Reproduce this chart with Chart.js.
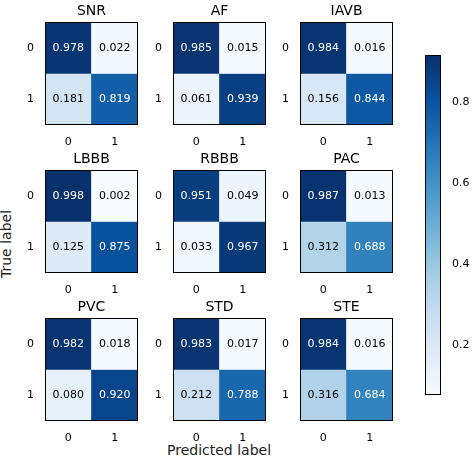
<!DOCTYPE html>
<html><head><meta charset="utf-8">
<script src="https://cdn.jsdelivr.net/npm/chart.js@4.4.0/dist/chart.umd.min.js"></script>
<style>
body{margin:0;background:#fff;font-family:"DejaVu Sans",sans-serif;}
#wrap{position:relative;width:474px;height:468px;}
canvas{position:absolute;}
.lab{position:absolute;font-size:14px;color:#222;}
</style></head><body>
<div id="wrap">
<div class="lab" style="left:-28px;top:236px;transform:rotate(-90deg);">True label</div>
<div class="lab" style="left:167px;top:442px;">Predicted label</div>
</div>
<script>
var classes = ["SNR","AF","IAVB","LBBB","RBBB","PAC","PVC","STD","STE"];
// rates per class: row 0 (true 0) and row 1 (true 1)
var row0 = [[0.978,0.022],[0.985,0.015],[0.984,0.016],[0.998,0.002],[0.951,0.049],[0.987,0.013],[0.982,0.018],[0.983,0.017],[0.984,0.016]];
var row1 = [[0.181,0.819],[0.061,0.939],[0.156,0.844],[0.125,0.875],[0.033,0.967],[0.312,0.688],[0.080,0.920],[0.212,0.788],[0.316,0.684]];
var axisLabels = ["0","1"];
var cbTicks = [0.2,0.4,0.6,0.8];
var cbMin = 0.077, cbMax = 0.916;

var stops = ["#f7fbff","#deebf7","#c6dbef","#9ecae1","#6baed6","#4292c6","#2171b5","#08519c","#08306b"];
function hex(h){return [1,3,5].map(function(i){return parseInt(h.substr(i,2),16);});}
function blues(v){
  var t = Math.max(0,Math.min(1,v))*8, i = Math.min(7,Math.floor(t)), f = t-i;
  var a = hex(stops[i]), b = hex(stops[i+1]);
  return "rgb("+a.map(function(x,k){return Math.round(x+(b[k]-x)*f);}).join(",")+")";
}

var colL = [45,173,300], rowT = [22,170,318], PW = 93, PH = 103;
var wrap = document.getElementById("wrap");

var panelPlugin = {
  id:"panel",
  afterDatasetsDraw:function(c){
    var ctx=c.ctx, a=c.chartArea;
    ctx.save();
    c.data.datasets.forEach(function(ds,di){
      c.getDatasetMeta(di).data.forEach(function(bar,j){
        var v = ds.vals[j];
        ctx.fillStyle = v>0.5 ? "#fff" : "#000";
        ctx.font = "11px 'DejaVu Sans'";
        ctx.textAlign="center"; ctx.textBaseline="middle";
        ctx.fillText(v.toFixed(3), bar.x, (bar.y+bar.base)/2);
      });
    });
    ctx.strokeStyle="#000"; ctx.lineWidth=1;
    ctx.strokeRect(a.left+0.5,a.top+0.5,a.width-1,a.height-1);
    ctx.fillStyle="#000"; ctx.font="14px 'DejaVu Sans'";
    ctx.textAlign="center"; ctx.textBaseline="bottom";
    ctx.fillText(c.options.plugins.ptitle, (a.left+a.right)/2, a.top-4);
    ctx.restore();
  }
};

classes.forEach(function(name,k){
  var col=k%3, row=Math.floor(k/3);
  var cv=document.createElement("canvas");
  cv.style.left=(colL[col]-22)+"px"; cv.style.top=(rowT[row]-22)+"px";
  cv.style.width=(PW+26)+"px"; cv.style.height=(PH+44)+"px";
  wrap.appendChild(cv);
  new Chart(cv,{
    type:"bar",
    data:{labels:axisLabels,datasets:[
      {data:[[1,2],[1,2]],vals:row0[k],backgroundColor:row0[k].map(blues),barPercentage:1,categoryPercentage:1,borderWidth:0},
      {data:[[0,1],[0,1]],vals:row1[k],backgroundColor:row1[k].map(blues),barPercentage:1,categoryPercentage:1,borderWidth:0}
    ]},
    options:{
      responsive:false,animation:false,
      layout:{padding:{top:22,right:4,left:0,bottom:0}},
      plugins:{legend:{display:false},tooltip:{enabled:false},ptitle:name},
      scales:{
        x:{stacked:true,grid:{display:false},border:{display:false},
           ticks:{color:"#000",font:{size:11,family:"DejaVu Sans"}},
           afterFit:function(s){s.height=22;}},
        y:{stacked:false,min:0,max:2,grid:{display:false},border:{display:false},
           afterBuildTicks:function(s){s.ticks=[{value:0.5},{value:1.5}];},
           ticks:{color:"#000",font:{size:11,family:"DejaVu Sans"},callback:function(v){return v===1.5?"0":"1";}},
           afterFit:function(s){s.width=22;}}
      }
    },
    plugins:[panelPlugin]
  });
});

// colorbar
var cb=document.createElement("canvas");
cb.style.left="425px"; cb.style.top="45px"; cb.style.width="45px"; cb.style.height="360px";
wrap.appendChild(cb);
new Chart(cb,{
  type:"bar",
  data:{labels:[""],datasets:[{data:[[cbMin,cbMax]],barPercentage:1,categoryPercentage:1,borderWidth:0,
    backgroundColor:function(ctx){
      var a=ctx.chart.chartArea; if(!a) return "#6baed6";
      var g=ctx.chart.ctx.createLinearGradient(0,a.bottom,0,a.top);
      stops.forEach(function(s,i){g.addColorStop(i/8,s);});
      return g;}}]},
  options:{
    responsive:false,animation:false,
    layout:{padding:{top:10,bottom:10,left:0,right:0}},
    plugins:{legend:{display:false},tooltip:{enabled:false}},
    scales:{
      x:{display:false},
      y:{position:"right",min:cbMin,max:cbMax,grid:{display:false},border:{display:false},
         afterBuildTicks:function(s){s.ticks=cbTicks.map(function(v){return {value:v};});},
         ticks:{color:"#000",font:{size:11,family:"DejaVu Sans"}},
         afterFit:function(s){s.width=29;}}
    }
  },
  plugins:[{id:"cbb",afterDatasetsDraw:function(c){var a=c.chartArea,ctx=c.ctx;ctx.save();ctx.strokeStyle="#000";ctx.lineWidth=1;ctx.strokeRect(a.left+0.5,a.top+0.5,a.width-1,a.height-1);ctx.restore();}}]
});
</script>
</body></html>
